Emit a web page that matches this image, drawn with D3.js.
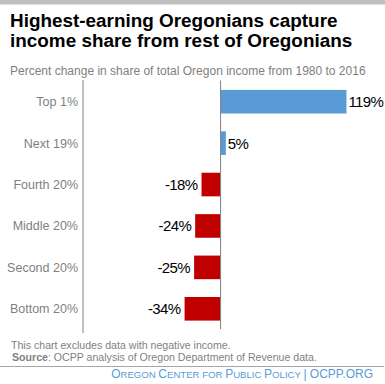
<!DOCTYPE html>
<html lang="en">
  <head>
    <meta charset="utf-8">
    <title>Oregon income share</title>
    <script type="text/javascript" src="https://d3js.org/d3.v7.min.js"></script>
    <style type="text/css">
    body { margin: 0; background: #fff; }
    svg { display: block; font-family: "Liberation Sans", Arial, sans-serif; }
    .title { font-size: 18.9px; font-weight: bold; fill: #000; }
    .subhead { font-size: 12px; fill: #808080; }
    .cat { font-size: 12.5px; fill: #7f7f7f; }
    .val { font-size: 15px; fill: #000; letter-spacing: -0.6px; }
    .note { font-size: 10.6px; fill: #7f7f7f; }
    .brand { fill: #5b9bd5; }
    </style>
  </head>
  <body>
    <svg width="385" height="384" id="chart"></svg>
    <script type="text/javascript">

// data
const groups = ["Top 1%", "Next 19%", "Fourth 20%", "Middle 20%", "Second 20%", "Bottom 20%"];
const pctChange = [119, 5, -18, -24, -25, -34];

const W = 385, H = 384;
const axisLeft = 83;
const plotTop = 81, plotBottom = 329.5;

const svg = d3.select("#chart");

// top grey strip
svg.append("rect")
    .attr("x", 0).attr("y", 0)
    .attr("width", W).attr("height", 4.5)
    .attr("fill", "#bfbfbf");

svg.append("text")
    .attr("class", "title")
    .attr("x", 10).attr("y", 27)
    .text("Highest-earning Oregonians capture");
svg.append("text")
    .attr("class", "title")
    .attr("x", 10).attr("y", 47)
    .text("income share from rest of Oregonians");
svg.append("text")
    .attr("class", "subhead")
    .attr("x", 10).attr("y", 74.5)
    .text("Percent change in share of total Oregon income from 1980 to 2016");

const xScale = d3.scaleLinear()
    .domain([-130, 145])
    .range([axisLeft, 374]);

const yScale = d3.scaleBand()
    .domain(groups)
    .range([plotTop, plotBottom])
    .paddingInner(0.43)
    .paddingOuter(0.215);

const rows = groups.map((g, i) => ({group: g, value: pctChange[i]}));

svg.selectAll("rect.bar")
    .data(rows)
    .enter()
    .append("rect")
    .attr("class", "bar")
    .attr("x", d => xScale(Math.min(0, d.value)))
    .attr("y", d => yScale(d.group))
    .attr("width", d => Math.abs(xScale(d.value) - xScale(0)))
    .attr("height", yScale.bandwidth())
    .attr("fill", d => d.value >= 0 ? "#5b9bd5" : "#c00000");

// zero line
svg.append("line")
    .attr("x1", xScale(0)).attr("x2", xScale(0))
    .attr("y1", 80.5).attr("y2", 329)
    .attr("stroke", "#808080")
    .attr("stroke-width", 1);

// left category axis line
svg.append("line")
    .attr("x1", axisLeft).attr("x2", axisLeft)
    .attr("y1", 80).attr("y2", 333)
    .attr("stroke", "#808080")
    .attr("stroke-width", 1);

svg.selectAll("text.cat")
    .data(rows)
    .enter()
    .append("text")
    .attr("class", "cat")
    .attr("text-anchor", "end")
    .attr("x", 78)
    .attr("y", d => yScale(d.group) + yScale.bandwidth() / 2)
    .attr("dy", "0.36em")
    .text(d => d.group);

svg.selectAll("text.val")
    .data(rows)
    .enter()
    .append("text")
    .attr("class", "val")
    .attr("text-anchor", d => d.value >= 0 ? "start" : "end")
    .attr("x", d => d.value >= 0 ? xScale(d.value) + 2 : xScale(d.value) - 4)
    .attr("y", d => yScale(d.group) + yScale.bandwidth() / 2)
    .attr("dy", "0.36em")
    .text(d => d.value + "%");

// footer
svg.append("text")
    .attr("class", "note")
    .attr("x", 11).attr("y", 348.5)
    .text("This chart excludes data with negative income.");
const src = svg.append("text")
    .attr("class", "note")
    .attr("x", 12).attr("y", 360.5);
src.append("tspan").attr("font-weight", "bold").text("Source");
src.append("tspan").text(": OCPP analysis of Oregon Department of Revenue data.");

svg.append("line")
    .attr("x1", 0).attr("x2", 384)
    .attr("y1", 366.5).attr("y2", 366.5)
    .attr("stroke", "#a6a6a6");

// brand line in small caps
const brandParts = [["O", 12], ["REGON ", 9.6], ["C", 12], ["ENTER FOR ", 9.6], ["P", 12], ["UBLIC ", 9.6],
                    ["P", 12], ["OLICY ", 9.6], ["| OCPP.ORG", 12]];
const brand = svg.append("text")
    .attr("class", "brand")
    .attr("text-anchor", "end")
    .attr("x", 373).attr("y", 377.5);
brandParts.forEach(p => brand.append("tspan").attr("font-size", p[1] + "px").text(p[0]));

    </script>
  </body>
</html>
